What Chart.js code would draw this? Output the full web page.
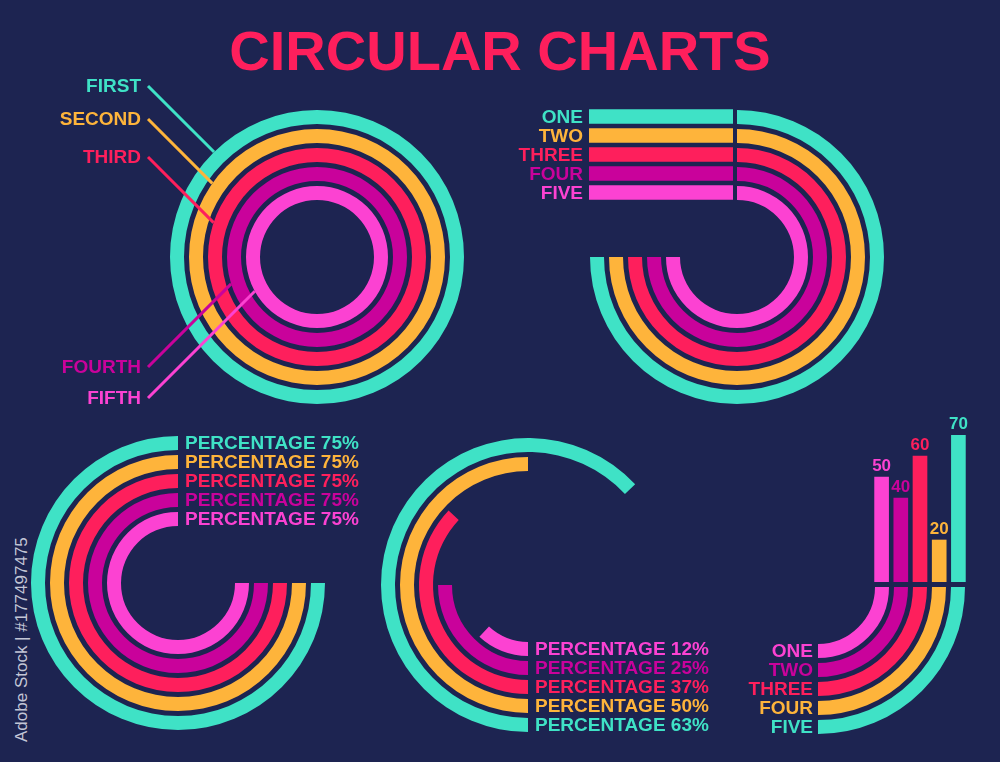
<!DOCTYPE html>
<html lang="en">
<head>
<meta charset="UTF-8">
<title>Circular Charts</title>
<script src="https://cdn.jsdelivr.net/npm/chart.js"></script>
<style>
    html, body {
        margin: 0;
        padding: 0;
        background: #1d2451;
    }
    #page {
        position: relative;
        width: 1000px;
        height: 762px;
        overflow: hidden;
        background: #1d2451;
        font-family: "Liberation Sans", Arial, sans-serif;
    }
    canvas {
        position: absolute;
    }
    h1 {
        position: absolute;
        left: 0;
        top: 23px;
        width: 1000px;
        margin: 0;
        text-align: center;
        font-size: 56px;
        line-height: 56px;
        font-weight: bold;
        color: #fe1f5c;
    }
    .stock {
        position: absolute;
        left: 12px;
        top: 742px;
        transform-origin: 0 0;
        transform: rotate(-90deg);
        color: #c3c6d6;
        font-size: 17px;
        white-space: nowrap;
    }
</style>
</head>
<body>
<div id="page">
    <h1>CIRCULAR CHARTS</h1>
    <div class="stock">Adobe Stock | #177497475</div>

    <canvas id="ringsChart" width="554" height="394" style="left:40px;top:60px"></canvas>
    <canvas id="hookArcChart" width="310" height="310" style="left:582px;top:102px"></canvas>
    <canvas id="hookBarChart" width="224" height="95" style="left:509px;top:107px"></canvas>
    <canvas id="equalChart" width="400" height="310" style="left:23px;top:428px"></canvas>
    <canvas id="stepChart" width="510" height="310" style="left:373px;top:430px"></canvas>
    <canvas id="cornerChart" width="310" height="310" style="left:663px;top:432px"></canvas>
    <canvas id="cornerBarChart" width="96" height="177" style="left:872px;top:405px"></canvas>
</div>

<script>
    // ---- data ----
    const ringColors = ['#3fe2c6', '#feb43b', '#fe1f5c', '#c9029b', '#fc42d2']; // outer -> inner
    const ringNames = ['FIRST', 'SECOND', 'THIRD', 'FOURTH', 'FIFTH'];
    const ringFull = [100, 100, 100, 100, 100];

    const hookLabels = ['ONE', 'TWO', 'THREE', 'FOUR', 'FIVE'];
    const hookArc = [75, 75, 75, 75, 75];
    const hookBar = [100, 100, 100, 100, 100];

    const equalPct = [75, 75, 75, 75, 75];
    const stepPct = [63, 50, 37, 25, 12];

    const cornerArc = [25, 25, 25, 25, 25];
    const barLabels = ['ONE', 'TWO', 'THREE', 'FOUR', 'FIVE'];
    const barValues = [50, 40, 60, 20, 70];

    // ---- look ----
    const FONT = '"Liberation Sans", Arial, sans-serif';
    const RING = 14, GAP = 5, R_OUT = 147, R_IN = 57;
    const barColors = ringColors.slice().reverse();

    // label anchors for the first chart (canvas coords) and leader direction
    const callouts = [[101, 26, 1], [101, 59, 1], [101, 97, 1], [101, 307, -1], [101, 338, -1]];

    // one ring per value, with a transparent spacer ring between them
    function ringDatasets(values) {
        const sets = [];
        values.forEach((v, i) => {
            sets.push({ data: [v, 100 - v], backgroundColor: [ringColors[i], 'rgba(0,0,0,0)'], weight: RING });
            if (i < values.length - 1) {
                sets.push({ data: [100], backgroundColor: ['rgba(0,0,0,0)'], weight: GAP });
            }
        });
        return sets;
    }

    function ringChart(id, values, rotation, padding, plugins) {
        return new Chart(document.getElementById(id), {
            type: 'doughnut',
            data: { datasets: ringDatasets(values) },
            options: {
                responsive: false,
                animation: false,
                events: [],
                rotation: rotation,
                radius: R_OUT,
                cutout: (R_IN / R_OUT * 100) + '%',
                layout: { padding: padding || 0 },
                elements: { arc: { borderWidth: 0 } },
                plugins: { legend: { display: false }, tooltip: { enabled: false } }
            },
            plugins: plugins || []
        });
    }

    function ringArc(chart, i) {
        return chart.getDatasetMeta(i * 2).data[0];
    }

    // FIRST..FIFTH with 45 degree leader lines to the outer edge of each ring
    const calloutPlugin = {
        id: 'callouts',
        afterDatasetsDraw(chart) {
            const ctx = chart.ctx;
            ctx.save();
            ctx.font = 'bold 19px ' + FONT;
            ctx.textAlign = 'right';
            ctx.textBaseline = 'middle';
            ctx.lineWidth = 3;
            ringNames.forEach((name, i) => {
                const [lx, ly, dir] = callouts[i];
                const arc = ringArc(chart, i);
                const x0 = lx + 7, y0 = ly;
                const dx = x0 - arc.x, dy = y0 - arc.y;
                const b = dx + dir * dy;
                const c = dx * dx + dy * dy - arc.outerRadius * arc.outerRadius;
                const t = (-b - Math.sqrt(b * b - 2 * c)) / 2;
                ctx.strokeStyle = ringColors[i];
                ctx.beginPath();
                ctx.moveTo(x0, y0);
                ctx.lineTo(x0 + t, y0 + dir * t);
                ctx.stroke();
                ctx.fillStyle = ringColors[i];
                ctx.fillText(name, lx, ly + 1);
            });
            ctx.restore();
        }
    };

    // ONE..FIVE to the left of the straight bars
    const hookLabelPlugin = {
        id: 'hookLabels',
        afterDatasetsDraw(chart) {
            const ctx = chart.ctx;
            ctx.save();
            ctx.font = 'bold 19px ' + FONT;
            ctx.textAlign = 'right';
            ctx.textBaseline = 'middle';
            chart.getDatasetMeta(0).data.forEach((bar, i) => {
                ctx.fillStyle = ringColors[i];
                ctx.fillText(hookLabels[i], chart.chartArea.left - 6, bar.y + 1);
            });
            ctx.restore();
        }
    };

    // "PERCENTAGE nn%" next to the start of each ring
    function pctPlugin(values, side) {
        return {
            id: 'pctLabels',
            afterDatasetsDraw(chart) {
                const ctx = chart.ctx;
                ctx.save();
                ctx.font = 'bold 19px ' + FONT;
                ctx.textAlign = 'left';
                ctx.textBaseline = 'middle';
                values.forEach((v, i) => {
                    const arc = ringArc(chart, i);
                    const mid = (arc.outerRadius + arc.innerRadius) / 2;
                    ctx.fillStyle = ringColors[i];
                    ctx.fillText('PERCENTAGE ' + v + '%', arc.x + 7, arc.y + side * mid + 1);
                });
                ctx.restore();
            }
        };
    }

    // ONE..FIVE left of the bottom ends of the corner arcs
    const cornerLabelPlugin = {
        id: 'cornerLabels',
        afterDatasetsDraw(chart) {
            const ctx = chart.ctx;
            ctx.save();
            ctx.font = 'bold 19px ' + FONT;
            ctx.textAlign = 'right';
            ctx.textBaseline = 'middle';
            barLabels.forEach((name, k) => {
                const i = ringColors.length - 1 - k;
                const arc = ringArc(chart, i);
                const mid = (arc.outerRadius + arc.innerRadius) / 2;
                ctx.fillStyle = ringColors[i];
                ctx.fillText(name, arc.x - 5, arc.y + mid + 1);
            });
            ctx.restore();
        }
    };

    const valueLabelPlugin = {
        id: 'valueLabels',
        afterDatasetsDraw(chart) {
            const ctx = chart.ctx;
            ctx.save();
            ctx.font = 'bold 17px ' + FONT;
            ctx.textAlign = 'center';
            ctx.textBaseline = 'bottom';
            chart.getDatasetMeta(0).data.forEach((bar, i) => {
                ctx.fillStyle = barColors[i];
                ctx.fillText(String(barValues[i]), bar.x, bar.y - 2);
            });
            ctx.restore();
        }
    };

    // ---- charts ----
    ringChart('ringsChart', ringFull, 0, 0, [calloutPlugin]);

    ringChart('hookArcChart', hookArc, 0);
    new Chart(document.getElementById('hookBarChart'), {
        type: 'bar',
        data: {
            labels: hookLabels,
            datasets: [{ data: hookBar, backgroundColor: ringColors, borderWidth: 0, barThickness: RING }]
        },
        options: {
            indexAxis: 'y',
            responsive: false,
            animation: false,
            events: [],
            layout: { padding: { left: 80 } },
            scales: {
                x: { display: false, min: 0, max: 100 },
                y: { display: false }
            },
            plugins: { legend: { display: false }, tooltip: { enabled: false } }
        },
        plugins: [hookLabelPlugin]
    });

    ringChart('equalChart', equalPct, 90, { right: 90 }, [pctPlugin(equalPct, -1)]);

    ringChart('stepChart', stepPct, 180, { right: 200 }, [pctPlugin(stepPct, 1)]);

    ringChart('cornerChart', cornerArc, 90, 0, [cornerLabelPlugin]);
    new Chart(document.getElementById('cornerBarChart'), {
        type: 'bar',
        data: {
            labels: barLabels,
            datasets: [{ data: barValues, backgroundColor: barColors, borderWidth: 0, barThickness: RING }]
        },
        options: {
            responsive: false,
            animation: false,
            events: [],
            layout: { padding: { top: 30 } },
            scales: {
                x: { display: false },
                y: { display: false, min: 0, max: 70 }
            },
            plugins: { legend: { display: false }, tooltip: { enabled: false } }
        },
        plugins: [valueLabelPlugin]
    });
</script>
</body>
</html>
